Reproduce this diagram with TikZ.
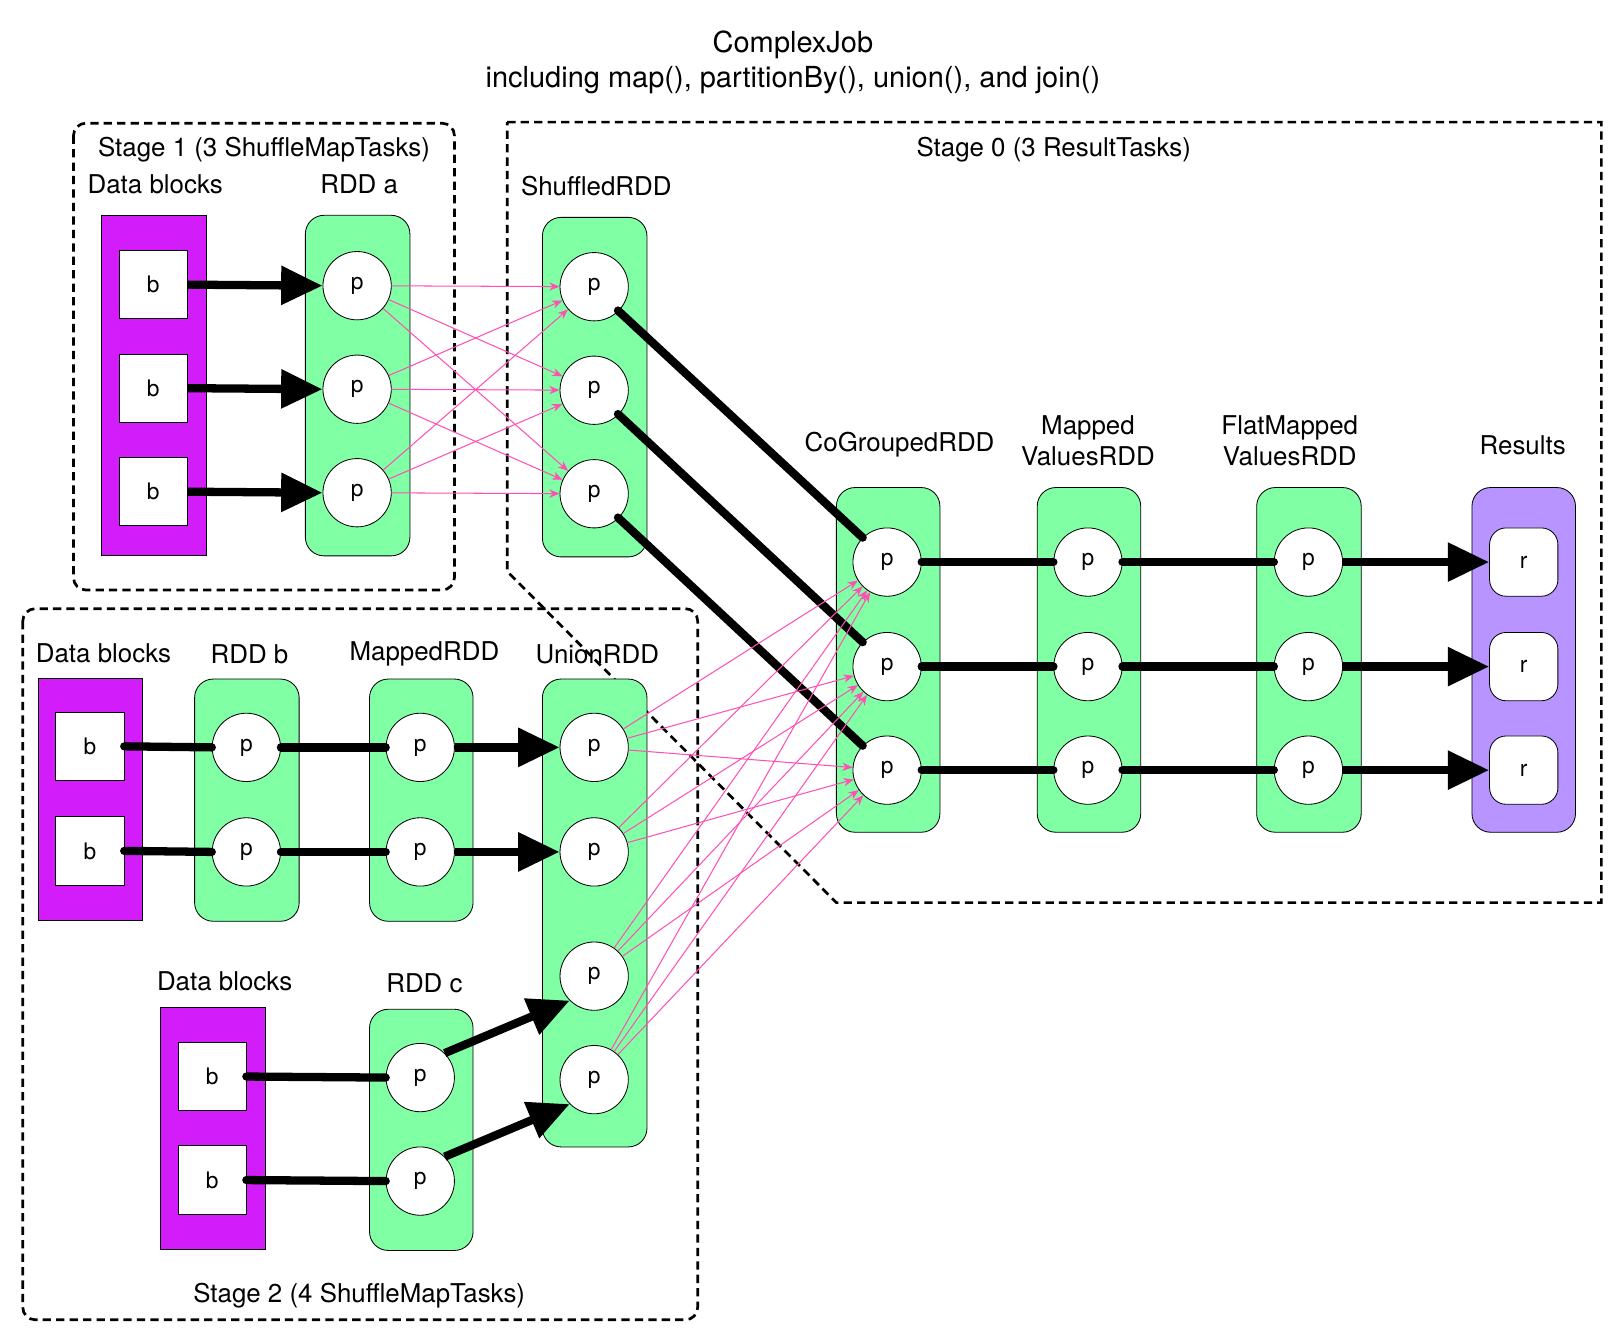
\documentclass[tikz,border=0pt]{standalone}
\usepackage{fontspec}
\setmainfont{TeX Gyre Heros}
\usetikzlibrary{arrows.meta}
\definecolor{grn}{RGB}{128,255,165}
\definecolor{pur}{RGB}{210,28,250}
\definecolor{lav}{RGB}{183,148,255}
\definecolor{pnk}{RGB}{255,80,180}
\tikzset{
 pn/.style={circle,draw,fill=white,minimum size=33pt,inner sep=0pt,font=\fontsize{11}{13}\selectfont},
 bn/.style={rectangle,draw,fill=white,minimum size=33pt,inner sep=0pt,font=\fontsize{11}{13}\selectfont},
 rn/.style={rectangle,rounded corners=8pt,draw,fill=white,minimum width=33pt,minimum height=33pt,inner sep=0pt,font=\fontsize{11}{13}\selectfont},
 gbox/.style={draw,fill=grn,rounded corners=9pt},
 pbox/.style={draw,fill=pur},
 lbl/.style={font=\fontsize{12.5}{15}\selectfont,align=center},
 stg/.style={draw,dashed,line width=1.3pt,dash pattern=on 4pt off 2.5pt,rounded corners=6pt},
 thk/.style={line width=4pt,line cap=round},
 tha/.style={line width=4pt,-{Triangle[length=20pt,width=18pt]}},
 pk/.style={draw=pnk,line width=0.5pt,-{Stealth[length=5pt,width=4pt]}},
}
\begin{document}
\begin{tikzpicture}[x=0.5pt,y=-0.5pt]
\useasboundingbox (0,0) rectangle (1565,1293);
\node[lbl,font=\fontsize{14}{17}\selectfont] (title) at (766,60) {ComplexJob\\including map(), partitionBy(), union(), and join()};
% stages
\draw[stg] (71,119) rectangle (439,570);
\node[lbl] (s1) at (255,145) {Stage 1 (3 ShuffleMapTasks)};
\draw[stg,rounded corners=0pt] (490,118) -- (1547,118) -- (1547,872) -- (808,872) -- (490,552) -- cycle;
\node[lbl] (s0) at (1018,145) {Stage 0 (3 ResultTasks)};
\draw[stg] (22,588) rectangle (674,1275);
\node[lbl] (s2) at (347,1252) {Stage 2 (4 ShuffleMapTasks)};
% labels
\node[lbl] at (150,178) {Data blocks};
\node[lbl] at (347,178) {RDD a};
\node[lbl] at (576,180) {ShuffledRDD};
\node[lbl] at (869,430) {CoGroupedRDD};
\node[lbl] at (1051,426) {Mapped\\ValuesRDD};
\node[lbl] at (1246,426) {FlatMapped\\ValuesRDD};
\node[lbl] at (1471,430) {Results};
\node[lbl] at (100,631) {Data blocks};
\node[lbl] at (241,632) {RDD b};
\node[lbl] at (410,632) {MappedRDD};
\node[lbl] at (577,632) {UnionRDD};
\node[lbl] at (217,948) {Data blocks};
\node[lbl] at (410,950) {RDD c};
% containers
\draw[pbox] (98,208) rectangle (199,537);
\draw[gbox] (295,208) rectangle (396,537);
\draw[gbox] (524,210) rectangle (625,538);
\draw[gbox] (808,471) rectangle (908,804);
\draw[gbox] (1002,471) rectangle (1102,804);
\draw[gbox] (1214,471) rectangle (1315,804);
\draw[draw,fill=lav,rounded corners=9pt] (1422,471) rectangle (1522,804);
\draw[pbox] (37,655) rectangle (138,889);
\draw[gbox] (188,656) rectangle (289,890);
\draw[gbox] (357,656) rectangle (457,890);
\draw[gbox] (524,656) rectangle (625,1108);
\draw[pbox] (155,973) rectangle (256,1207);
\draw[gbox] (357,975) rectangle (457,1208);
% nodes
\foreach \i/\y in {1/275,2/375,3/475}{
 \node[bn] (ab\i) at (148,\y) {b};
 \node[pn] (a\i) at (345,\y+1) {p};
 \node[pn] (s\i) at (574,\y+2) {p};}
\foreach \i/\y in {1/543,2/644,3/744}{
 \node[pn] (c\i) at (857,\y) {p};
 \node[pn] (m\i) at (1051,\y) {p};
 \node[pn] (f\i) at (1264,\y) {p};
 \node[rn] (r\i) at (1472,\y) {r};}
\foreach \i/\y in {1/721,2/822}{
 \node[bn] (bb\i) at (87,\y) {b};
 \node[pn] (b\i) at (238,\y+1) {p};
 \node[pn] (mb\i) at (406,\y+1) {p};}
\foreach \i/\y in {1/722,2/823,3/943,4/1043}{
 \node[pn] (u\i) at (574,\y) {p};}
\foreach \i/\y in {1/1040,2/1140}{
 \node[bn] (cb\i) at (205,\y) {b};
 \node[pn] (cp\i) at (406,\y+1) {p};}
% thick connectors
\foreach \i in {1,2,3}{
 \draw[tha] (ab\i.center) ++(33,0) -- (a\i.west);
 \draw[thk] (s\i.center) ++(23,23) -- (c\i.north west);
 \draw[thk] (c\i.east) -- (m\i.west);
 \draw[thk] (m\i.east) -- (f\i.west);
 \draw[tha] (f\i.east) -- (r\i.west);}
\foreach \i in {1,2}{
 \draw[thk] (bb\i.center) ++(33,0) -- (b\i.west);
 \draw[thk] (b\i.east) -- (mb\i.west);
 \draw[tha] (mb\i.east) -- (u\i.west);
 \draw[thk] (cb\i.center) ++(33,0) -- (cp\i.west);}
\draw[tha] (cp1.north east) -- (u3.south west);
\draw[tha] (cp2.north east) -- (u4.south west);
% pink shuffles
\foreach \i in {1,2,3}{\foreach \j in {1,2,3}{\draw[pk] (a\i) -- (s\j);}}
\foreach \i in {1,2,3,4}{\foreach \j in {1,2,3}{\draw[pk] (u\i) -- (c\j);}}
\end{tikzpicture}
\end{document}
